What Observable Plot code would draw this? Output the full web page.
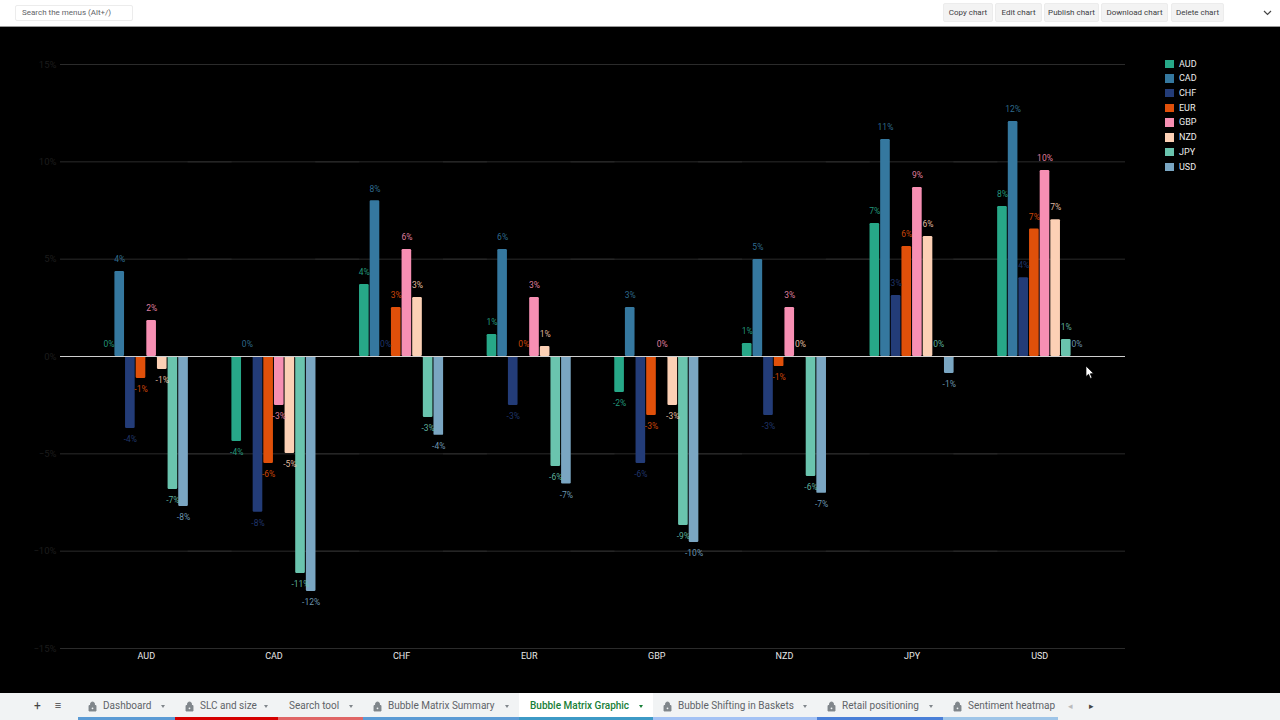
<!DOCTYPE html>
<html><head><meta charset="utf-8">
<script src="https://cdn.jsdelivr.net/npm/d3@7"></script>
<script src="https://cdn.jsdelivr.net/npm/@observablehq/plot@0.6"></script>
<style>
html,body{margin:0;padding:0;background:#000;width:1280px;height:720px;overflow:hidden;font-family:Roboto,sans-serif}
#top{position:absolute;left:0;top:0;width:1280px;height:26px;background:#fff;border-bottom:1px solid #999;box-sizing:content-box}
#search{position:absolute;left:15px;top:5px;width:118px;height:16px;box-sizing:border-box;border:1px solid #ececec;border-radius:2px;font-size:8px;line-height:14px;color:#5f6368;padding-left:6px;background:#fff}
.btn{position:absolute;top:3px;height:19px;box-sizing:border-box;background:#f3f3f3;border:1px solid #ececec;border-radius:2px;font-size:8px;line-height:17px;text-align:center;color:#3c4043}
#chev{position:absolute;left:1262px;top:7px;width:11px;height:11px}
#chart{position:absolute;left:0;top:27px;opacity:.999}
#legend{position:absolute;left:1165px;top:59.5px;opacity:.999}
.li{position:absolute;left:0;width:60px;height:9px;color:#eee;font-size:9px;line-height:9px;white-space:nowrap}
.li i{position:absolute;left:0;top:0;width:8.5px;height:8.5px}
.li span{position:absolute;left:14px;top:0}
#tabs{position:absolute;left:0;top:693px;width:1280px;height:27px;background:#f1f3f4;color:#5f6368;font-size:10px}
.tab{position:absolute;top:0;height:27px;box-sizing:border-box;line-height:26px;white-space:nowrap;overflow:hidden}
.tab b{position:absolute;left:0;right:0;bottom:0;height:3px}
.tab svg{position:absolute;left:10px;top:8px}
.tab em{position:absolute;top:12px;width:0;height:0;border-left:2.5px solid transparent;border-right:2.5px solid transparent;border-top:3px solid #80868b}
.ic{position:absolute;top:0;line-height:26px;color:#444;text-align:center}
#cursor{position:absolute;left:1085px;top:365px}
</style></head><body>
<div id="top">
  <div id="search">Search the menus (Alt+/)</div>
  <div class="btn" style="left:943px;width:50px">Copy chart</div>
  <div class="btn" style="left:995px;width:47px">Edit chart</div>
  <div class="btn" style="left:1044px;width:55px">Publish chart</div>
  <div class="btn" style="left:1101px;width:67px">Download chart</div>
  <div class="btn" style="left:1171px;width:53px">Delete chart</div>
  <svg id="chev" viewBox="0 0 11 11"><path d="M2 4 L5.5 7.5 L9 4" fill="none" stroke="#444" stroke-width="1.2"/></svg>
</div>
<div id="chart"></div>
<div id="legend"></div>
<div id="tabs"></div>
<svg id="cursor" width="11" height="15" viewBox="0 0 11 15"><path d="M1 1 L1 11.5 L3.6 9.3 L5.4 13.5 L7 12.8 L5.3 8.8 L8.6 8.6 Z" fill="#fff" stroke="#000" stroke-width=".7"/></svg>
<script>
const groups = ["AUD","CAD","CHF","EUR","GBP","NZD","JPY","USD"];
const series = ["AUD","CAD","CHF","EUR","GBP","NZD","JPY","USD"];
const colors = ["#27a888","#35789f","#233c78","#e0500a","#f78fb3","#fcd0b5","#6ac4ae","#7aa6c2"];
const yTicks = [-0.15,-0.10,-0.05,0,0.05,0.10,0.15];
const audValues = [0, 4.37, -3.7, -1.13, 1.85, -0.67, -6.83, -7.7];
const cadValues = [-4.37, 0, -8.0, -5.5, -2.52, -4.98, -11.15, -12.07];
const chfValues = [3.7, 8.0, 0, 2.52, 5.5, 3.03, -3.13, -4.05];
const eurValues = [1.13, 5.5, -2.52, 0, 3.03, 0.52, -5.65, -6.55];
const gbpValues = [-1.85, 2.52, -5.5, -3.03, 0, -2.52, -8.68, -9.55];
const nzdValues = [0.67, 4.98, -3.03, -0.52, 2.52, 0, -6.16, -7.03];
const jpyValues = [6.83, 11.15, 3.13, 5.65, 8.68, 6.16, 0, -0.87];
const usdValues = [7.7, 12.07, 4.05, 6.55, 9.55, 7.03, 0.87, 0];
const tabNames = ["Dashboard","SLC and size","Search tool","Bubble Matrix Summary","Bubble Matrix Graphic","Bubble Shifting in Baskets","Retail positioning","Sentiment heatmap"];

const matrix = [audValues,cadValues,chfValues,eurValues,gbpValues,nzdValues,jpyValues,usdValues];
const rows = groups.flatMap((g,i)=>series.map((s,j)=>({group:g,series:s,value:matrix[i][j]/100})));
const pos = rows.filter(d=>d.value>=0), neg = rows.filter(d=>d.value<0);
const fmt = d3.format(".0%");
const lab = d=>fmt(d.value).replace("−","-");

const chart = Plot.plot({
  width:1280,height:666,
  marginTop:37,marginBottom:45,marginLeft:82,marginRight:177,
  style:{background:"#000",fontFamily:"Roboto,sans-serif",overflow:"visible"},
  fx:{domain:groups,padding:0,round:false,label:null,axis:null},
  x:{domain:series,paddingInner:0,paddingOuter:2,round:false,axis:null},
  y:{domain:[-0.15,0.15],axis:null},
  color:{domain:series,range:colors},
  marks:[
    Plot.ruleY(yTicks.filter(v=>v!==0),{stroke:"#2b2b2b",strokeWidth:1,insetLeft:-22,insetRight:-22}),
    Plot.barY(rows.filter(d=>d.value!==0),{fx:"group",x:"series",y:"value",fill:"series",rx:1.2,insetLeft:.5,insetRight:.5}),
    Plot.ruleY([0],{stroke:"#cfcfcf",strokeWidth:1,insetLeft:-22,insetRight:-22}),
    Plot.text(pos,{fx:"group",x:"series",y:"value",text:lab,fill:"series",fillOpacity:.9,dy:-12,fontSize:8.5}),
    Plot.text(neg,{fx:"group",x:"series",y:"value",text:lab,fill:"series",fillOpacity:.9,dy:11,fontSize:8.5}),
    Plot.axisFx({anchor:"bottom",label:null,tickSize:0,tickPadding:4,fontSize:9,color:"#e8e8e8"}),
    Plot.axisY({ticks:yTicks,anchor:"left",label:null,tickSize:0,tickPadding:26,tickFormat:d3.format(".0%"),fontSize:9.5,color:"#1c1c1c"})
  ]
});
document.getElementById("chart").appendChild(chart);

const legend=document.getElementById("legend");
series.forEach((s,i)=>{
  const li=document.createElement("div");li.className="li";li.style.top=(i*14.72)+"px";
  li.innerHTML=`<i style="background:${colors[i]}"></i><span>${s}</span>`;
  legend.appendChild(li);
});

const tabs=document.getElementById("tabs");
const lock=`<svg width="9" height="11" viewBox="0 0 9 11"><path d="M1 4.5h7v5.5h-7z M2.5 4.5v-1.5a2 2 0 0 1 4 0v1.5" fill="#80868b" stroke="#80868b" stroke-width=".9" fill-opacity="1"/><circle cx="4.5" cy="7.3" r=".9" fill="#f1f3f4"/></svg>`;
const geom=[[78,97,"#5b9bd5",1],[175,103,"#d50000",1],[278,85,"#e06666",0],[363,156,"#5b9bd5",1],[519,134,"#3d9ac6",0],[653,164,"#a4c2f4",1],[817,126,"#4a7fd8",1],[943,115,"#9fc5e8",1]];
tabNames.forEach((t,i)=>{
  const [l,w,c,lk]=geom[i];
  const d=document.createElement("div");d.className="tab";
  d.style.left=l+"px";d.style.width=w+"px";
  const active=i===4;
  if(active){d.style.background="#fff";d.style.color="#188038";d.style.fontWeight="500";}
  const tx=lk?25:11;
  d.innerHTML=(lk?lock:"")+`<span style="position:absolute;left:${tx}px">${t}</span>`+(i<7?`<em style="right:10px;${active?"border-top-color:#188038":""}"></em>`:"")+`<b style="background:${c}"></b>`;
  tabs.appendChild(d);
});
const plus=document.createElement("div");plus.className="ic";plus.style.cssText+="left:32px;width:11px;font-size:12px";plus.textContent="+";tabs.appendChild(plus);
const menu=document.createElement("div");menu.className="ic";menu.style.cssText+="left:53px;width:10px;font-size:11px";menu.textContent="≡";tabs.appendChild(menu);
[["◂",1066,"#bbb"],["▸",1087,"#444"]].forEach(([c,l,col])=>{const a=document.createElement("div");a.className="ic";a.style.cssText+=`left:${l}px;width:8px;font-size:9px;color:${col}`;a.textContent=c;tabs.appendChild(a);});
</script>
</body></html>
